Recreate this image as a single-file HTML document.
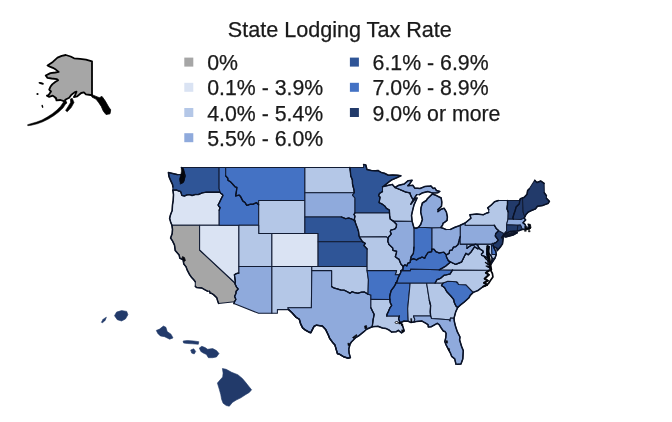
<!DOCTYPE html>
<html><head><meta charset="utf-8"><title>State Lodging Tax Rate</title>
<style>
html,body{margin:0;padding:0;background:#fff;}
body{width:672px;height:422px;overflow:hidden;font-family:"Liberation Sans",Arial,sans-serif;}
svg{display:block;filter:blur(0.35px)}
text{font-family:"Liberation Sans",Arial,sans-serif;font-size:21.3px;fill:#1a1a1a;stroke:#1a1a1a;stroke-width:0.25px}
.st path{stroke:#111b33;stroke-width:1.05;stroke-linejoin:round}
</style></head><body>
<svg width="672" height="422" viewBox="0 0 672 422">
<rect width="672" height="422" fill="#fff"/>
<text x="339.8" y="36.6" text-anchor="middle" style="font-size:21.6px">State Lodging Tax Rate</text>
<g><rect x="184.3" y="57.6" width="9" height="9" fill="#a6a6a6"/><text x="207.2" y="70.2">0%</text><rect x="184.3" y="82.8" width="9" height="9" fill="#dae3f3"/><text x="207.2" y="95.4">0.1% - 3.9%</text><rect x="184.3" y="108" width="9" height="9" fill="#b4c7e7"/><text x="207.2" y="120.6">4.0% - 5.4%</text><rect x="184.3" y="133.2" width="9" height="9" fill="#8faadc"/><text x="207.2" y="145.8">5.5% - 6.0%</text><rect x="349.9" y="57.6" width="9" height="9" fill="#2f5597"/><text x="372.6" y="70.2">6.1% - 6.9%</text><rect x="349.9" y="82.8" width="9" height="9" fill="#4472c4"/><text x="372.6" y="95.4">7.0% - 8.9%</text><rect x="349.9" y="108" width="9" height="9" fill="#223a6a"/><text x="372.6" y="120.6">9.0% or more</text></g>
<g class="st"><path d="M181.4,167.5 183.1,169.6 185.1,175.8 184.2,179.1 183.4,181.8 180.5,183.6 181.8,179.1 181.4,174.6 177.0,174.6 168.4,172.6 169.0,176.6 170.9,181.1 172.5,184.4 172.9,186.9 172.9,190.2 172.9,190.2 176.5,190.1 178.5,191.0 180.5,191.4 181.3,193.5 181.8,195.4 184.4,196.0 187.1,194.9 189.7,194.6 192.0,195.6 195.3,194.5 198.3,194.6 202.2,192.9 206.2,192.2 219.9,192.2 219.9,192.2 219.7,190.6 219.1,188.7 219.1,167.5Z" fill="#2f5597"/>
<path d="M172.9,190.2 173.5,194.7 173.2,200.5 172.5,204.6 172.2,210.4 170.6,214.5 169.6,218.3 170.6,221.9 171.9,225.2 219.2,225.2 219.2,225.2 219.2,210.2 220.1,207.5 219.1,206.7 218.1,205.0 219.4,202.6 220.4,200.5 221.6,198.0 222.9,195.6 222.4,194.3 220.9,193.5 219.9,192.2 219.9,192.2 206.2,192.2 202.2,192.9 198.3,194.6 195.3,194.5 192.0,195.6 189.7,194.6 187.1,194.9 184.4,196.0 181.8,195.4 181.3,193.5 180.5,191.4 178.5,191.0 176.5,190.1 172.9,190.2Z" fill="#dae3f3"/>
<path d="M171.9,225.2 172.5,229.4 172.2,233.5 170.6,238.1 172.5,240.9 174.5,245.1 175.2,250.4 179.1,254.9 179.8,258.2 183.1,259.9 183.8,264.0 186.1,266.9 187.1,269.8 189.7,274.8 191.7,277.6 194.0,280.1 195.3,281.8 195.3,286.3 196.5,287.5 201.6,287.9 204.6,289.6 207.5,291.2 209.5,291.2 210.2,293.3 211.5,293.3 213.5,294.6 216.8,297.8 217.6,300.7 218.6,303.4 234.4,301.8 235.9,299.5 234.6,296.2 235.9,293.7 236.2,291.2 238.2,289.0 236.6,287.1 235.2,284.2 235.0,283.0 199.6,250.0 199.6,225.2Z" fill="#a6a6a6"/>
<path d="M199.6,225.2 199.6,250.0 235.0,283.0 235.4,281.3 234.9,278.1 234.4,274.8 236.6,273.5 238.9,273.1 238.9,266.5 238.9,225.2Z" fill="#dae3f3"/>
<path d="M219.1,167.5 219.1,188.7 219.7,190.6 219.9,192.2 219.9,192.2 220.9,193.5 222.4,194.3 222.9,195.6 221.6,198.0 220.4,200.5 219.4,202.6 218.1,205.0 219.1,206.7 220.1,207.5 219.2,210.2 219.2,225.2 258.7,225.2 258.7,204.8 256.4,202.6 253.1,204.2 250.4,204.2 246.8,205.4 245.1,202.6 242.8,200.9 240.5,196.4 239.2,195.1 235.6,195.9 236.2,193.1 236.9,187.3 235.2,186.9 233.3,184.8 230.6,181.9 228.0,180.3 227.8,178.2 225.7,175.9 225.7,167.5Z" fill="#4472c4"/>
<path d="M225.7,167.5 225.7,175.9 227.8,178.2 228.0,180.3 230.6,181.9 233.3,184.8 235.2,186.9 236.9,187.3 236.2,193.1 235.6,195.9 239.2,195.1 240.5,196.4 242.8,200.9 245.1,202.6 246.8,205.4 250.4,204.2 253.1,204.2 256.4,202.6 258.7,204.8 258.7,200.5 304.9,200.5 304.9,167.5Z" fill="#4472c4"/>
<path d="M258.7,200.5 304.9,200.5 304.9,233.5 258.7,233.5Z" fill="#b4c7e7"/>
<path d="M238.9,225.2 258.7,225.2 258.7,233.5 271.9,233.5 271.9,266.5 238.9,266.5Z" fill="#b4c7e7"/>
<path d="M271.9,233.5 318.1,233.5 318.1,266.5 271.9,266.5Z" fill="#dae3f3"/>
<path d="M234.4,301.8 235.9,299.5 234.6,296.2 235.9,293.7 236.2,291.2 238.2,289.0 236.6,287.1 235.2,284.2 235.0,283.0 235.0,283.0 235.4,281.3 234.9,278.1 234.4,274.8 236.6,273.5 238.9,273.1 238.9,266.5 271.9,266.5 271.9,313.3 258.5,313.3 233.9,303.6Z" fill="#8faadc"/>
<path d="M271.9,266.5 311.8,266.5 311.8,270.6 311.4,307.8 287.9,307.8 288.6,309.6 277.4,309.6 277.4,313.3 271.9,313.3Z" fill="#b4c7e7"/>
<path d="M304.9,167.5 349.9,167.5 350.4,171.6 350.7,175.8 352.4,179.9 352.5,184.0 354.0,189.8 354.3,192.7 304.9,192.7Z" fill="#b4c7e7"/>
<path d="M304.9,192.7 354.3,192.7 352.5,195.1 355.0,198.0 355.0,212.9 355.0,212.9 354.0,214.5 355.0,216.2 354.4,219.1 355.0,221.2 355.0,221.2 353.4,219.9 351.4,218.9 348.8,218.1 345.5,218.7 341.5,217.0 304.9,217.0Z" fill="#8faadc"/>
<path d="M304.9,217.0 341.5,217.0 345.5,218.7 348.8,218.1 351.4,218.9 353.4,219.9 355.0,221.2 355.0,221.2 355.7,223.6 357.3,227.7 358.5,231.4 359.0,235.6 359.5,237.0 359.5,237.0 360.3,238.4 362.6,241.8 318.1,241.8 318.1,233.5 304.9,233.5Z" fill="#2f5597"/>
<path d="M318.1,241.8 362.6,241.8 365.3,243.4 363.9,245.5 367.2,249.0 367.1,266.5 318.1,266.5Z" fill="#2f5597"/>
<path d="M311.8,266.5 367.1,266.5 367.1,270.6 368.4,279.7 368.0,294.2 368.0,294.2 364.6,292.1 361.3,292.2 358.0,293.3 354.0,292.5 352.1,291.7 350.1,293.3 346.8,291.5 344.1,290.2 340.8,290.0 336.9,288.8 334.2,288.1 331.6,286.6 331.6,270.6 311.8,270.6Z" fill="#b4c7e7"/>
<path d="M311.8,270.6 331.6,270.6 331.6,286.6 334.2,288.1 336.9,288.8 340.8,290.0 344.1,290.2 346.8,291.5 350.1,293.3 352.1,291.7 354.0,292.5 358.0,293.3 361.3,292.2 364.6,292.1 368.0,294.2 370.9,295.0 370.9,299.3 370.9,307.8 372.5,311.1 374.2,314.4 373.2,319.3 372.9,321.8 372.2,326.7 366.6,329.2 363.9,331.7 358.7,335.8 355.4,337.9 351.4,342.0 350.1,344.0 348.8,349.0 349.1,353.1 350.4,357.6 348.1,358.2 343.5,356.7 339.5,354.2 337.5,353.7 336.4,350.1 334.9,344.9 332.6,342.4 329.6,338.3 328.3,335.0 325.7,329.6 322.4,326.1 316.4,325.2 314.0,326.4 310.8,332.7 309.8,332.5 305.2,330.0 302.6,327.9 300.6,323.8 299.3,319.3 296.0,317.2 292.0,312.7 288.6,309.6 287.9,307.8 311.4,307.8Z" fill="#8faadc"/>
<path d="M363.6,167.5 363.6,164.4 365.8,165.0 367.0,169.6 371.2,170.4 375.2,170.8 378.1,170.6 381.1,172.4 384.4,173.3 388.4,175.2 392.7,174.9 397.6,175.3 400.9,175.8 397.6,177.4 391.7,179.9 389.0,181.9 383.7,186.1 382.5,186.8 382.5,191.6 379.5,193.5 378.6,195.6 380.1,197.2 379.5,200.5 379.1,202.6 382.4,204.2 385.1,206.3 386.4,208.3 389.4,210.0 389.5,212.9 355.0,212.9 355.0,212.9 355.0,198.0 352.5,195.1 354.3,192.7 354.3,192.7 354.0,189.8 352.5,184.0 352.4,179.9 350.7,175.8 350.4,171.6 349.9,167.5Z" fill="#2f5597"/>
<path d="M355.0,212.9 389.5,212.9 389.5,212.9 389.7,216.2 390.3,219.1 393.3,221.1 393.3,221.1 396.6,224.4 396.3,226.9 395.3,228.7 393.6,229.4 390.7,230.2 390.3,231.8 391.3,233.9 390.3,235.2 388.4,237.2 388.2,238.6 388.2,238.6 386.2,236.7 359.5,237.0 359.5,237.0 359.0,235.6 358.5,231.4 357.3,227.7 355.7,223.6 355.0,221.2 355.0,221.2 354.4,219.1 355.0,216.2 354.0,214.5 355.0,212.9Z" fill="#b4c7e7"/>
<path d="M359.5,237.0 386.2,236.7 386.2,236.7 388.2,238.6 388.2,238.6 387.7,241.8 388.4,242.3 388.7,244.2 392.7,247.9 393.0,250.4 396.6,251.2 396.4,253.1 395.3,256.6 397.9,258.7 398.9,259.1 400.9,264.0 403.2,266.5 403.2,266.5 402.9,269.8 400.9,270.6 400.9,270.6 400.7,272.7 399.6,274.8 395.2,274.8 395.2,274.8 396.6,270.6 367.1,270.6 367.1,266.5 367.2,249.0 363.9,245.5 365.3,243.4 362.6,241.8 362.6,241.8 360.3,238.4 359.5,237.0Z" fill="#b4c7e7"/>
<path d="M367.1,270.6 396.6,270.6 395.2,274.8 399.6,274.8 397.9,278.5 396.9,281.9 395.6,283.0 395.6,283.0 395.6,284.2 393.8,287.1 391.3,290.4 390.3,293.7 389.7,297.0 389.9,299.5 370.9,299.3 370.9,295.0 368.0,294.2 368.4,279.7Z" fill="#4472c4"/>
<path d="M370.9,299.3 389.9,299.5 390.3,302.8 391.7,305.3 390.0,307.8 388.4,311.5 387.0,314.4 386.8,316.0 386.8,316.0 399.4,316.0 398.6,318.9 400.2,322.8 401.6,323.8 402.9,326.7 404.2,330.9 401.6,332.9 398.3,330.4 396.3,331.7 391.7,332.1 389.0,330.0 385.7,328.4 382.4,328.0 377.8,326.3 372.2,326.7 372.9,321.8 373.2,319.3 374.2,314.4 372.5,311.1 370.9,307.8 370.9,299.3Z" fill="#b4c7e7"/>
<path d="M395.6,283.0 395.6,284.2 393.8,287.1 391.3,290.4 390.3,293.7 389.7,297.0 389.9,299.5 389.9,299.5 390.3,302.8 391.7,305.3 390.0,307.8 388.4,311.5 387.0,314.4 386.8,316.0 386.8,316.0 399.4,316.0 398.6,318.9 400.2,322.8 404.2,321.0 408.2,321.2 407.7,308.6 410.1,283.8 409.5,283.0Z" fill="#4472c4"/>
<path d="M409.5,283.0 410.1,283.8 407.7,308.6 408.2,321.2 410.8,322.4 414.0,321.9 414.8,319.3 413.4,316.0 430.6,316.0 430.6,316.0 430.3,311.9 430.6,305.3 429.4,300.6 426.6,283.0Z" fill="#b4c7e7"/>
<path d="M426.6,283.0 443.1,283.0 441.5,285.5 444.5,287.5 446.8,291.7 450.7,295.8 453.7,299.5 454.4,302.8 456.0,306.1 457.7,307.5 455.7,311.9 454.0,318.3 450.4,318.1 450.1,321.2 449.1,319.7 431.5,318.5 430.6,316.0 430.6,316.0 430.3,311.9 430.6,305.3 429.4,300.6Z" fill="#b4c7e7"/>
<path d="M413.4,316.0 430.6,316.0 431.5,318.5 449.1,319.7 450.1,321.2 450.4,318.1 454.0,318.3 454.4,321.8 455.4,325.9 457.3,331.7 460.0,337.0 459.6,339.9 461.6,346.5 463.3,350.6 462.8,358.9 461.0,363.9 457.7,364.3 456.0,364.3 454.7,358.9 451.7,356.4 450.4,353.1 448.4,349.4 446.1,344.9 444.8,341.6 445.8,337.5 446.1,333.3 444.8,331.3 443.5,331.3 441.2,328.0 439.2,324.7 437.2,323.4 434.9,324.7 431.3,326.7 428.3,327.0 428.0,324.7 426.0,323.4 422.0,321.1 416.1,321.5 414.0,321.9 414.8,319.3Z" fill="#8faadc"/>
<path d="M443.1,283.0 447.8,281.3 456.7,281.8 456.7,282.6 457.5,282.2 458.5,284.5 465.8,284.7 473.2,292.4 470.2,295.4 468.9,297.8 466.2,300.3 464.3,302.0 460.6,304.9 457.7,307.5 456.0,306.1 454.4,302.8 453.7,299.5 450.7,295.8 446.8,291.7 444.5,287.5 441.5,285.5 443.1,283.0Z" fill="#4472c4"/>
<path d="M452.5,269.9 450.1,273.9 446.4,274.8 444.1,275.2 440.5,278.3 436.9,279.7 435.1,283.0 443.1,283.0 447.8,281.3 456.7,281.8 456.7,282.6 457.5,282.2 458.5,284.5 465.8,284.7 473.2,292.4 477.8,290.6 483.1,286.6 487.2,284.9 484.0,282.9 487.9,280.7 484.6,278.7 488.9,274.8 485.8,272.8 489.0,270.6 490.9,270.2 452.5,269.9Z" fill="#b4c7e7"/>
<path d="M400.9,270.6 400.7,272.7 399.6,274.8 399.6,274.8 397.9,278.5 396.9,281.9 395.6,283.0 409.5,283.0 426.6,283.0 435.1,283.0 435.1,283.0 436.9,279.7 440.5,278.3 444.1,275.2 446.4,274.8 450.1,273.9 452.5,269.9 452.5,269.9 439.3,269.8 439.3,269.8 410.5,269.1 410.5,270.6 400.9,270.6Z" fill="#4472c4"/>
<path d="M403.2,266.5 404.9,264.8 406.8,265.9 407.8,263.2 410.1,262.4 410.5,259.9 413.4,258.7 416.7,259.9 418.7,258.4 420.7,257.8 422.0,257.0 424.7,258.2 425.7,256.0 428.0,252.5 431.6,251.7 431.8,249.2 433.9,249.2 435.9,251.7 439.2,252.9 443.8,252.2 446.4,254.8 446.4,256.8 448.4,260.7 450.6,262.0 445.8,266.1 443.1,267.7 439.3,269.8 410.5,269.1 410.5,270.6 400.9,270.6 402.9,269.8 403.2,266.5Z" fill="#4472c4"/>
<path d="M439.3,269.8 443.1,267.7 445.8,266.1 450.6,262.0 450.6,262.0 455.5,264.4 461.6,262.0 465.9,253.3 468.2,254.8 471.1,251.9 474.5,246.8 477.9,248.9 478.6,247.4 480.1,249.2 482.6,250.6 483.1,251.2 483.1,252.5 481.4,254.1 481.8,255.4 483.4,255.8 486.0,257.0 488.4,258.9 488.0,262.0 488.0,266.5 490.0,267.3 490.9,270.2 452.5,269.9Z" fill="#b4c7e7"/>
<path d="M490.3,265.3 492.3,258.7 495.0,258.0Z" fill="#b4c7e7"/>
<path d="M446.4,254.8 449.1,253.3 449.7,250.4 452.1,250.0 453.4,247.1 455.7,246.7 458.0,244.6 459.0,240.9 459.6,238.4 460.2,236.5 460.2,244.1 467.0,244.1 467.0,248.3 469.5,246.3 471.9,245.1 474.2,244.9 475.5,244.2 477.8,245.1 478.6,247.4 478.6,247.4 477.9,248.9 474.5,246.8 471.1,251.9 468.2,254.8 465.9,253.3 461.6,262.0 455.5,264.4 450.6,262.0 450.6,262.0 448.4,260.7 446.4,256.8 446.4,254.8Z" fill="#8faadc"/>
<path d="M467.0,244.1 491.4,244.1 492.0,254.5 496.3,254.5 495.0,258.0 492.3,258.7 491.0,255.8 488.0,252.5 489.3,246.7 487.0,248.3 486.7,254.1 487.7,257.4 488.4,258.9 486.0,257.0 483.4,255.8 481.8,255.4 481.4,254.1 483.1,252.5 483.1,251.2 482.6,250.6 480.1,249.2 478.6,247.4 478.6,247.4 477.8,245.1 475.5,244.2 474.2,244.9 471.9,245.1 469.5,246.3 467.0,248.3Z" fill="#b4c7e7"/>
<path d="M491.4,244.1 492.6,243.2 494.0,243.4 493.0,245.1 494.0,247.9 495.9,251.7 496.3,254.5 492.0,254.5Z" fill="#4472c4"/>
<path d="M460.2,236.5 460.2,225.2 465.2,223.0 465.2,225.2 494.3,225.2 496.3,228.6 498.6,230.6 495.7,233.7 495.3,236.0 498.3,240.1 495.9,242.6 494.0,243.4 492.6,243.2 491.4,244.1 460.2,244.1Z" fill="#8faadc"/>
<path d="M498.6,230.6 495.7,233.7 495.3,236.0 498.3,240.1 495.9,242.6 494.0,243.4 493.0,245.1 493.3,246.3 496.9,248.3 497.3,250.6 500.6,246.7 502.5,243.8 503.2,238.0 501.6,237.6 503.0,236.0 503.9,233.5Z" fill="#223a6a"/>
<path d="M465.2,225.2 465.2,223.0 470.9,218.2 469.9,214.8 476.8,213.9 483.4,214.7 487.0,212.9 488.7,212.5 488.7,209.6 487.7,207.9 491.3,205.0 494.6,201.7 498.4,200.5 507.5,200.5 507.5,204.6 507.0,208.8 508.2,212.1 508.0,219.1 506.5,224.8 506.6,231.0 505.0,232.7 505.5,233.5 503.9,234.7 503.0,236.0 503.9,233.5 498.6,230.6 496.3,228.6 494.3,225.2Z" fill="#b4c7e7"/>
<path d="M503.0,236.6 505.2,233.9 514.4,231.7 517.3,232.7 513.1,235.0 505.8,237.0 503.2,237.0Z" fill="#10192f"/>
<path d="M507.5,200.5 507.5,204.6 507.0,208.8 508.2,212.1 508.0,219.1 513.4,219.2 513.4,219.2 512.8,218.2 513.8,214.5 515.1,210.8 516.1,207.1 519.4,203.8 519.7,200.4Z" fill="#223a6a"/>
<path d="M519.7,200.4 519.4,203.8 516.1,207.1 515.1,210.8 513.8,214.5 512.8,218.2 513.4,219.2 521.0,219.5 524.2,218.1 525.0,216.4 524.3,215.3 523.2,212.1 522.8,204.6 522.5,198.0 520.4,198.8Z" fill="#223a6a"/>
<path d="M522.5,198.0 524.3,197.2 527.0,194.3 527.6,190.6 529.3,188.8 534.7,180.2 535.9,181.5 536.9,182.5 540.8,181.0 544.1,183.4 544.3,192.7 546.4,195.6 546.4,198.2 549.4,201.3 548.1,203.4 542.8,205.4 537.5,206.3 535.5,208.9 530.9,210.8 528.3,212.1 526.0,214.5 525.0,216.4 524.3,215.3 523.2,212.1 522.8,204.6Z" fill="#223a6a"/>
<path d="M506.5,224.8 508.0,219.1 513.4,219.2 521.0,219.5 524.2,218.1 525.6,219.9 523.0,222.8 525.0,224.4 526.0,226.9 529.6,226.9 529.6,225.2 528.3,224.7 529.9,227.7 525.6,229.0 522.3,229.4 520.5,225.1 517.7,225.2Z" fill="#8faadc"/>
<path d="M517.7,225.2 520.5,225.1 522.3,229.4 519.7,230.4 517.3,230.9Z" fill="#223a6a"/>
<path d="M506.5,224.8 517.7,225.2 517.3,230.9 510.5,231.4 505.5,233.5 505.0,232.7 506.6,231.0Z" fill="#223a6a"/>
<path d="M431.8,227.7 440.8,227.5 443.8,228.6 445.8,229.4 450.4,229.4 455.0,227.3 460.2,225.4 460.2,236.5 459.6,238.4 459.0,240.9 458.0,244.6 455.7,246.7 453.4,247.1 452.1,250.0 449.7,250.4 449.1,253.3 446.4,254.8 446.4,254.8 443.8,252.2 439.2,252.9 435.9,251.7 433.9,249.2 431.8,249.2Z" fill="#8faadc"/>
<path d="M413.9,227.7 416.1,228.3 418.6,227.2 431.8,227.7 431.8,249.2 431.6,251.7 428.0,252.5 425.7,256.0 424.7,258.2 422.0,257.0 420.7,257.8 418.7,258.4 416.7,259.9 413.4,258.7 410.5,259.9 410.5,259.9 411.1,256.6 413.4,253.3 413.9,247.1 413.9,227.7Z" fill="#4472c4"/>
<path d="M413.9,227.7 412.1,221.2 393.3,221.1 393.3,221.1 396.6,224.4 396.3,226.9 395.3,228.7 393.6,229.4 390.7,230.2 390.3,231.8 391.3,233.9 390.3,235.2 388.4,237.2 388.2,238.6 387.7,241.8 388.4,242.3 388.7,244.2 392.7,247.9 393.0,250.4 396.6,251.2 396.4,253.1 395.3,256.6 397.9,258.7 398.9,259.1 400.9,264.0 403.2,266.5 404.9,264.8 406.8,265.9 407.8,263.2 410.1,262.4 410.5,259.9 411.1,256.6 413.4,253.3 413.9,247.1 413.9,227.7Z" fill="#8faadc"/>
<path d="M382.5,186.8 389.7,185.1 392.3,184.4 395.0,187.5 403.5,191.1 405.5,192.0 410.1,192.9 410.1,193.9 411.8,197.6 413.4,199.7 410.8,204.2 415.4,198.4 417.1,198.0 414.1,204.6 412.8,209.6 411.5,215.3 412.1,221.2 393.3,221.1 390.3,219.1 389.7,216.2 389.5,212.9 389.4,210.0 386.4,208.3 385.1,206.3 382.4,204.2 379.1,202.6 379.5,200.5 380.1,197.2 378.6,195.6 379.5,193.5 382.5,191.6 382.5,186.8Z" fill="#b4c7e7"/>
<path d="M395.0,187.5 403.5,191.1 405.5,192.0 410.1,192.9 410.1,193.9 411.8,197.6 413.4,199.7 416.7,194.7 419.4,194.7 422.0,193.1 428.0,191.6 432.6,193.1 437.9,192.7 439.8,191.4 436.5,190.6 434.9,188.1 433.2,188.4 430.9,185.9 424.7,186.6 420.0,188.5 414.8,188.1 412.8,185.2 407.8,185.7 409.5,184.0 412.1,180.3 408.2,180.7 404.2,184.0 398.9,185.2Z" fill="#8faadc"/>
<path d="M418.6,227.2 420.7,224.4 422.4,219.5 420.7,212.1 421.0,207.9 422.4,203.0 426.3,200.5 427.3,198.8 430.6,195.6 432.2,194.1 435.9,195.3 441.2,198.0 441.8,202.2 441.5,206.3 437.9,209.6 437.9,211.6 441.2,209.2 444.1,208.2 446.4,212.1 447.4,217.0 447.1,220.3 444.5,222.4 443.1,223.2 442.5,225.2 440.8,227.5 431.8,227.7Z" fill="#8faadc"/></g>
<g fill="none" stroke="#0a1226" stroke-width="1.0" stroke-linecap="round" stroke-linejoin="round"><path d="M181.4,167.5 L183.1,169.6 M183.1,169.6 L185.1,175.8 M184.2,179.1 L185.1,175.8 M183.4,181.8 L184.2,179.1 M180.5,183.6 L183.4,181.8 M180.5,183.6 L181.8,179.1 M181.4,174.6 L181.8,179.1 M168.4,172.6 L177.0,174.6 M168.4,172.6 L169.0,176.6 M169.0,176.6 L170.9,181.1 M170.9,181.1 L172.5,184.4 M172.5,184.4 L172.9,186.9 M172.9,190.2 L173.5,194.7 M173.2,200.5 L173.5,194.7 M172.5,204.6 L173.2,200.5 M172.2,210.4 L172.5,204.6 M170.6,214.5 L172.2,210.4 M169.6,218.3 L170.6,214.5 M169.6,218.3 L170.6,221.9 M170.6,221.9 L171.9,225.2 M171.9,225.2 L172.5,229.4 M172.2,233.5 L172.5,229.4 M170.6,238.1 L172.2,233.5 M170.6,238.1 L172.5,240.9 M172.5,240.9 L174.5,245.1 M174.5,245.1 L175.2,250.4 M175.2,250.4 L179.1,254.9 M179.1,254.9 L179.8,258.2 M179.8,258.2 L183.1,259.9 M183.1,259.9 L183.8,264.0 M183.8,264.0 L186.1,266.9 M186.1,266.9 L187.1,269.8 M187.1,269.8 L189.7,274.8 M189.7,274.8 L191.7,277.6 M191.7,277.6 L194.0,280.1 M194.0,280.1 L195.3,281.8 M195.3,286.3 L196.5,287.5 M196.5,287.5 L201.6,287.9 M201.6,287.9 L204.6,289.6 M204.6,289.6 L207.5,291.2 M209.5,291.2 L210.2,293.3 M211.5,293.3 L213.5,294.6 M213.5,294.6 L216.8,297.8 M216.8,297.8 L217.6,300.7 M217.6,300.7 L218.6,303.4 M233.9,303.6 L234.4,301.8 M366.6,329.2 L372.2,326.7 M363.9,331.7 L366.6,329.2 M358.7,335.8 L363.9,331.7 M355.4,337.9 L358.7,335.8 M351.4,342.0 L355.4,337.9 M350.1,344.0 L351.4,342.0 M348.8,349.0 L350.1,344.0 M348.8,349.0 L349.1,353.1 M349.1,353.1 L350.4,357.6 M348.1,358.2 L350.4,357.6 M343.5,356.7 L348.1,358.2 M339.5,354.2 L343.5,356.7 M337.5,353.7 L339.5,354.2 M336.4,350.1 L337.5,353.7 M334.9,344.9 L336.4,350.1 M332.6,342.4 L334.9,344.9 M329.6,338.3 L332.6,342.4 M328.3,335.0 L329.6,338.3 M325.7,329.6 L328.3,335.0 M322.4,326.1 L325.7,329.6 M316.4,325.2 L322.4,326.1 M314.0,326.4 L316.4,325.2 M310.8,332.7 L314.0,326.4 M309.8,332.5 L310.8,332.7 M305.2,330.0 L309.8,332.5 M302.6,327.9 L305.2,330.0 M300.6,323.8 L302.6,327.9 M299.3,319.3 L300.6,323.8 M296.0,317.2 L299.3,319.3 M292.0,312.7 L296.0,317.2 M288.6,309.6 L292.0,312.7 M363.6,164.4 L365.8,165.0 M365.8,165.0 L367.0,169.6 M367.0,169.6 L371.2,170.4 M371.2,170.4 L375.2,170.8 M375.2,170.8 L378.1,170.6 M378.1,170.6 L381.1,172.4 M381.1,172.4 L384.4,173.3 M384.4,173.3 L388.4,175.2 M388.4,175.2 L392.7,174.9 M392.7,174.9 L397.6,175.3 M397.6,175.3 L400.9,175.8 M397.6,177.4 L400.9,175.8 M391.7,179.9 L397.6,177.4 M389.0,181.9 L391.7,179.9 M383.7,186.1 L389.0,181.9 M382.5,186.8 L383.7,186.1 M400.2,322.8 L401.6,323.8 M401.6,323.8 L402.9,326.7 M402.9,326.7 L404.2,330.9 M401.6,332.9 L404.2,330.9 M398.3,330.4 L401.6,332.9 M396.3,331.7 L398.3,330.4 M391.7,332.1 L396.3,331.7 M389.0,330.0 L391.7,332.1 M385.7,328.4 L389.0,330.0 M382.4,328.0 L385.7,328.4 M377.8,326.3 L382.4,328.0 M372.2,326.7 L377.8,326.3 M400.2,322.8 L404.2,321.0 M404.2,321.0 L408.2,321.2 M408.2,321.2 L410.8,322.4 M410.8,322.4 L414.0,321.9 M455.7,311.9 L457.7,307.5 M454.0,318.3 L455.7,311.9 M454.0,318.3 L454.4,321.8 M454.4,321.8 L455.4,325.9 M455.4,325.9 L457.3,331.7 M457.3,331.7 L460.0,337.0 M459.6,339.9 L460.0,337.0 M459.6,339.9 L461.6,346.5 M461.6,346.5 L463.3,350.6 M462.8,358.9 L463.3,350.6 M461.0,363.9 L462.8,358.9 M457.7,364.3 L461.0,363.9 M454.7,358.9 L456.0,364.3 M451.7,356.4 L454.7,358.9 M450.4,353.1 L451.7,356.4 M448.4,349.4 L450.4,353.1 M446.1,344.9 L448.4,349.4 M444.8,341.6 L446.1,344.9 M444.8,341.6 L445.8,337.5 M445.8,337.5 L446.1,333.3 M444.8,331.3 L446.1,333.3 M441.2,328.0 L443.5,331.3 M439.2,324.7 L441.2,328.0 M437.2,323.4 L439.2,324.7 M434.9,324.7 L437.2,323.4 M431.3,326.7 L434.9,324.7 M428.3,327.0 L431.3,326.7 M428.0,324.7 L428.3,327.0 M426.0,323.4 L428.0,324.7 M422.0,321.1 L426.0,323.4 M416.1,321.5 L422.0,321.1 M414.0,321.9 L416.1,321.5 M470.2,295.4 L473.2,292.4 M468.9,297.8 L470.2,295.4 M466.2,300.3 L468.9,297.8 M464.3,302.0 L466.2,300.3 M460.6,304.9 L464.3,302.0 M457.7,307.5 L460.6,304.9 M473.2,292.4 L477.8,290.6 M477.8,290.6 L483.1,286.6 M483.1,286.6 L487.2,284.9 M484.0,282.9 L487.2,284.9 M484.0,282.9 L487.9,280.7 M484.6,278.7 L487.9,280.7 M484.6,278.7 L488.9,274.8 M485.8,272.8 L488.9,274.8 M485.8,272.8 L489.0,270.6 M489.0,270.6 L490.9,270.2 M488.0,262.0 L488.4,258.9 M488.0,266.5 L490.0,267.3 M490.0,267.3 L490.9,270.2 M490.3,265.3 L492.3,258.7 M490.3,265.3 L495.0,258.0 M495.0,258.0 L496.3,254.5 M491.0,255.8 L492.3,258.7 M488.0,252.5 L491.0,255.8 M488.0,252.5 L489.3,246.7 M487.0,248.3 L489.3,246.7 M486.7,254.1 L487.0,248.3 M486.7,254.1 L487.7,257.4 M487.7,257.4 L488.4,258.9 M493.0,245.1 L494.0,247.9 M494.0,247.9 L495.9,251.7 M495.9,251.7 L496.3,254.5 M460.2,225.2 L465.2,223.0 M493.0,245.1 L493.3,246.3 M493.3,246.3 L496.9,248.3 M496.9,248.3 L497.3,250.6 M497.3,250.6 L500.6,246.7 M500.6,246.7 L502.5,243.8 M502.5,243.8 L503.2,238.0 M501.6,237.6 L503.2,238.0 M501.6,237.6 L503.0,236.0 M465.2,223.0 L470.9,218.2 M469.9,214.8 L470.9,218.2 M469.9,214.8 L476.8,213.9 M476.8,213.9 L483.4,214.7 M483.4,214.7 L487.0,212.9 M487.0,212.9 L488.7,212.5 M487.7,207.9 L488.7,209.6 M487.7,207.9 L491.3,205.0 M491.3,205.0 L494.6,201.7 M494.6,201.7 L498.4,200.5 M503.9,234.7 L505.5,233.5 M503.0,236.0 L503.9,234.7 M503.0,236.6 L505.2,233.9 M514.4,231.7 L517.3,232.7 M513.1,235.0 L517.3,232.7 M505.8,237.0 L513.1,235.0 M503.0,236.6 L503.2,237.0 M524.2,218.1 L525.0,216.4 M520.4,198.8 L522.5,198.0 M519.7,200.4 L520.4,198.8 M522.5,198.0 L524.3,197.2 M524.3,197.2 L527.0,194.3 M527.0,194.3 L527.6,190.6 M527.6,190.6 L529.3,188.8 M534.7,180.2 L535.9,181.5 M535.9,181.5 L536.9,182.5 M536.9,182.5 L540.8,181.0 M540.8,181.0 L544.1,183.4 M544.3,192.7 L546.4,195.6 M546.4,198.2 L549.4,201.3 M548.1,203.4 L549.4,201.3 M542.8,205.4 L548.1,203.4 M537.5,206.3 L542.8,205.4 M535.5,208.9 L537.5,206.3 M530.9,210.8 L535.5,208.9 M528.3,212.1 L530.9,210.8 M526.0,214.5 L528.3,212.1 M525.0,216.4 L526.0,214.5 M524.2,218.1 L525.6,219.9 M523.0,222.8 L525.6,219.9 M523.0,222.8 L525.0,224.4 M525.0,224.4 L526.0,226.9 M528.3,224.7 L529.6,225.2 M528.3,224.7 L529.9,227.7 M525.6,229.0 L529.9,227.7 M522.3,229.4 L525.6,229.0 M519.7,230.4 L522.3,229.4 M517.3,230.9 L519.7,230.4 M510.5,231.4 L517.3,230.9 M505.5,233.5 L510.5,231.4 M440.8,227.5 L443.8,228.6 M443.8,228.6 L445.8,229.4 M450.4,229.4 L455.0,227.3 M455.0,227.3 L460.2,225.4 M413.9,227.7 L416.1,228.3 M416.1,228.3 L418.6,227.2 M412.1,221.2 L413.9,227.7 M382.5,186.8 L389.7,185.1 M389.7,185.1 L392.3,184.4 M392.3,184.4 L395.0,187.5 M410.8,204.2 L413.4,199.7 M410.8,204.2 L415.4,198.4 M415.4,198.4 L417.1,198.0 M414.1,204.6 L417.1,198.0 M412.8,209.6 L414.1,204.6 M411.5,215.3 L412.8,209.6 M411.5,215.3 L412.1,221.2 M413.4,199.7 L416.7,194.7 M419.4,194.7 L422.0,193.1 M422.0,193.1 L428.0,191.6 M428.0,191.6 L432.6,193.1 M432.6,193.1 L437.9,192.7 M437.9,192.7 L439.8,191.4 M436.5,190.6 L439.8,191.4 M434.9,188.1 L436.5,190.6 M433.2,188.4 L434.9,188.1 M430.9,185.9 L433.2,188.4 M424.7,186.6 L430.9,185.9 M420.0,188.5 L424.7,186.6 M414.8,188.1 L420.0,188.5 M412.8,185.2 L414.8,188.1 M407.8,185.7 L412.8,185.2 M407.8,185.7 L409.5,184.0 M409.5,184.0 L412.1,180.3 M408.2,180.7 L412.1,180.3 M404.2,184.0 L408.2,180.7 M398.9,185.2 L404.2,184.0 M395.0,187.5 L398.9,185.2 M418.6,227.2 L420.7,224.4 M420.7,224.4 L422.4,219.5 M420.7,212.1 L422.4,219.5 M420.7,212.1 L421.0,207.9 M421.0,207.9 L422.4,203.0 M422.4,203.0 L426.3,200.5 M426.3,200.5 L427.3,198.8 M427.3,198.8 L430.6,195.6 M430.6,195.6 L432.2,194.1 M432.2,194.1 L435.9,195.3 M435.9,195.3 L441.2,198.0 M441.2,198.0 L441.8,202.2 M441.5,206.3 L441.8,202.2 M437.9,209.6 L441.5,206.3 M437.9,211.6 L441.2,209.2 M441.2,209.2 L444.1,208.2 M444.1,208.2 L446.4,212.1 M446.4,212.1 L447.4,217.0 M447.1,220.3 L447.4,217.0 M444.5,222.4 L447.1,220.3 M443.1,223.2 L444.5,222.4 M442.5,225.2 L443.1,223.2 M440.8,227.5 L442.5,225.2" stroke-width="1.5"/><path d="M172.9,190.2 176.5,190.1 178.5,191.0 180.5,191.4 181.3,193.5 181.8,195.4 184.4,196.0 187.1,194.9 189.7,194.6 192.0,195.6 195.3,194.5 198.3,194.6 202.2,192.9 206.2,192.2 219.9,192.2" stroke-width="1.35"/><path d="M219.9,192.2 220.9,193.5 222.4,194.3 222.9,195.6 221.6,198.0 220.4,200.5 219.4,202.6 218.1,205.0 219.1,206.7 220.1,207.5 219.2,210.2" stroke-width="1.35"/><path d="M331.6,286.6 334.2,288.1 336.9,288.8 340.8,290.0 344.1,290.2 346.8,291.5 350.1,293.3 352.1,291.7 354.0,292.5 358.0,293.3 361.3,292.2 364.6,292.1 368.0,294.2" stroke-width="1.35"/><path d="M350.4,357.6 348.1,358.2 343.5,356.7 339.5,354.2 337.5,353.7 336.4,350.1 334.9,344.9 332.6,342.4 329.6,338.3 328.3,335.0 325.7,329.6 322.4,326.1 316.4,325.2 314.0,326.4 310.8,332.7 309.8,332.5 305.2,330.0 302.6,327.9 300.6,323.8 299.3,319.3 296.0,317.2 292.0,312.7 288.6,309.6" stroke-width="1.35"/><path d="M370.9,307.8 372.5,311.1 374.2,314.4 373.2,319.3 372.9,321.8 372.2,326.7" stroke-width="1.35"/><path d="M382.5,191.6 379.5,193.5 378.6,195.6 380.1,197.2 379.5,200.5 379.1,202.6 382.4,204.2 385.1,206.3 386.4,208.3 389.4,210.0 389.5,212.9" stroke-width="1.35"/><path d="M389.5,212.9 389.7,216.2 390.3,219.1 393.3,221.1" stroke-width="1.35"/><path d="M393.3,221.1 396.6,224.4 396.3,226.9 395.3,228.7 393.6,229.4 390.7,230.2 390.3,231.8 391.3,233.9 390.3,235.2 388.4,237.2 388.2,238.6" stroke-width="1.35"/><path d="M388.2,238.6 387.7,241.8 388.4,242.3 388.7,244.2 392.7,247.9 393.0,250.4 396.6,251.2 396.4,253.1 395.3,256.6 397.9,258.7 398.9,259.1 400.9,264.0 403.2,266.5" stroke-width="1.35"/><path d="M403.2,266.5 402.9,269.8 400.9,270.6" stroke-width="1.35"/><path d="M400.9,270.6 400.7,272.7 399.6,274.8" stroke-width="1.35"/><path d="M399.6,274.8 397.9,278.5 396.9,281.9 395.6,283.0" stroke-width="1.35"/><path d="M395.6,283.0 395.6,284.2 393.8,287.1 391.3,290.4 390.3,293.7 389.7,297.0 389.9,299.5" stroke-width="1.35"/><path d="M389.9,299.5 390.3,302.8 391.7,305.3 390.0,307.8 388.4,311.5 387.0,314.4 386.8,316.0" stroke-width="1.35"/><path d="M399.4,316.0 398.6,318.9 400.2,322.8" stroke-width="1.35"/><path d="M403.2,266.5 404.9,264.8 406.8,265.9 407.8,263.2 410.1,262.4 410.5,259.9" stroke-width="1.35"/><path d="M410.5,259.9 413.4,258.7 416.7,259.9 418.7,258.4 420.7,257.8 422.0,257.0 424.7,258.2 425.7,256.0 428.0,252.5 431.6,251.7 431.8,249.2" stroke-width="1.35"/><path d="M431.8,249.2 433.9,249.2 435.9,251.7 439.2,252.9 443.8,252.2 446.4,254.8" stroke-width="1.35"/><path d="M446.4,254.8 449.1,253.3 449.7,250.4 452.1,250.0 453.4,247.1 455.7,246.7 458.0,244.6 459.0,240.9 459.6,238.4 460.2,236.5" stroke-width="1.35"/><path d="M410.5,259.9 411.1,256.6 413.4,253.3 413.9,247.1" stroke-width="1.35"/><path d="M446.4,254.8 446.4,256.8 448.4,260.7 450.6,262.0" stroke-width="1.35"/><path d="M467.0,248.3 469.5,246.3 471.9,245.1 474.2,244.9 475.5,244.2 477.8,245.1 478.6,247.4" stroke-width="1.35"/><path d="M478.6,247.4 480.1,249.2 482.6,250.6 483.1,251.2 483.1,252.5 481.4,254.1 481.8,255.4 483.4,255.8 486.0,257.0 488.4,258.9" stroke-width="1.35"/><path d="M443.1,283.0 441.5,285.5 444.5,287.5 446.8,291.7 450.7,295.8 453.7,299.5 454.4,302.8 456.0,306.1 457.7,307.5" stroke-width="1.35"/><path d="M429.4,300.6 430.6,305.3 430.3,311.9 430.6,316.0" stroke-width="1.35"/><path d="M341.5,217.0 345.5,218.7 348.8,218.1 351.4,218.9 353.4,219.9 355.0,221.2" stroke-width="1.35"/><path d="M355.0,221.2 355.7,223.6 357.3,227.7 358.5,231.4 359.0,235.6 359.5,237.0" stroke-width="1.35"/><path d="M359.5,237.0 360.3,238.4 362.6,241.8" stroke-width="1.35"/><path d="M362.6,241.8 365.3,243.4 363.9,245.5 367.2,249.0" stroke-width="1.35"/><path d="M234.4,301.8 235.9,299.5 234.6,296.2 235.9,293.7 236.2,291.2 238.2,289.0 236.6,287.1 235.2,284.2 235.0,283.0" stroke-width="1.35"/><path d="M235.0,283.0 235.4,281.3 234.9,278.1 234.4,274.8 236.6,273.5 238.9,273.1" stroke-width="1.35"/><path d="M494.3,225.2 496.3,228.6 498.6,230.6 495.7,233.7 495.3,236.0 498.3,240.1 495.9,242.6 494.0,243.4" stroke-width="1.35"/><path d="M225.7,175.9 227.8,178.2 228.0,180.3 230.6,181.9 233.3,184.8 235.2,186.9 236.9,187.3 236.2,193.1 235.6,195.9 239.2,195.1 240.5,196.4 242.8,200.9 245.1,202.6 246.8,205.4 250.4,204.2 253.1,204.2 256.4,202.6 258.7,204.8" stroke-width="1.35"/><path d="M450.6,262.0 455.5,264.4 461.6,262.0 465.9,253.3 468.2,254.8 471.1,251.9 474.5,246.8 477.9,248.9 478.6,247.4" stroke-width="1.35"/><path d="M450.6,262.0 445.8,266.1 443.1,267.7 439.3,269.8" stroke-width="1.35"/><path d="M452.5,269.9 450.1,273.9 446.4,274.8 444.1,275.2 440.5,278.3 436.9,279.7 435.1,283.0" stroke-width="1.35"/><path d="M395.0,187.5 403.5,191.1 405.5,192.0 410.1,192.9 410.1,193.9 411.8,197.6 413.4,199.7" stroke-width="1.35"/><path d="M349.9,167.5 350.4,171.6 350.7,175.8 352.4,179.9 352.5,184.0 354.0,189.8 354.3,192.7" stroke-width="1.35"/><path d="M355.0,212.9 354.0,214.5 355.0,216.2 354.4,219.1 355.0,221.2" stroke-width="1.35"/><path d="M519.7,200.4 519.4,203.8 516.1,207.1 515.1,210.8 513.8,214.5 512.8,218.2 513.4,219.2" stroke-width="1.35"/><path d="M507.5,200.5 507.5,204.6 507.0,208.8 508.2,212.1" stroke-width="1.35"/></g>
<path d="M47.5,65.4 52.8,61.9 57.5,57.7 61.7,55.9 65.8,55.0 70.6,56.5 74.1,58.3 80.1,58.9 86.0,59.7 92.0,61.3 92.0,95.0 90.6,95.0 85.9,94.4 83.9,92.4 81.2,93.0 77.2,96.4 73.9,97.0 75.2,95.0 76.5,91.7 74.5,92.4 71.2,95.0 69.2,97.7 65.2,99.7 65.8,103.1 63.8,101.1 60.5,100.0 56.5,100.4 55.8,97.7 56.4,99.2 54.6,96.9 52.8,95.7 49.2,96.9 46.9,95.7 48.6,95.1 51.0,91.5 49.2,89.7 50.4,86.8 52.2,84.4 55.2,82.0 58.1,80.2 56.9,79.1 51.6,78.5 47.5,77.9 45.7,75.5 50.4,73.1 55.2,72.5 58.7,71.9 55.8,69.6 52.8,67.8 49.8,66.6Z" fill="#a6a6a6" stroke="#000" stroke-width="1.8" stroke-linejoin="round"/>
<path d="M91.3,94.4 96.0,96.4 99.3,97.7 102.0,96.4 105.3,101.1 108.7,107.1 110.7,109.8 110.0,113.8 106.0,114.5 103.3,111.1 101.3,106.4 98.6,102.4 96.0,99.1 91.9,97.0Z" fill="#000" stroke="#000" stroke-width="0.8" stroke-linejoin="round"/>
<path d="M64.4,100.7 60.6,106.2 56.9,110.1 52.4,113.7 47.2,117.1 42.0,120.0 36.7,122.0 30.8,123.7 27.6,124.7 27.8,125.7 31.2,125.3 37.3,123.8 42.8,121.8 48.4,119.1 53.8,115.7 58.7,112.1 63.0,108.0 66.8,102.3Z" fill="#000" stroke="#000" stroke-width="0.5" stroke-linejoin="round"/>
<path d="M72.2,98.2 74.0,102.4 71.2,107.6 67.2,111.8 65.6,110.4 68.2,106.4 70.6,102.4 70.4,99.0Z" fill="#000" stroke="#000" stroke-width="0.6" stroke-linejoin="round"/>
<ellipse cx="41.2" cy="83.3" rx="2.8" ry="1.1" fill="#000" transform="rotate(15 41.2 83.3)"/>
<ellipse cx="37.5" cy="93.9" rx="1.1" ry="1.0" fill="#000"/>
<ellipse cx="42.4" cy="106.4" rx="0.8" ry="1.7" fill="#000" transform="rotate(-15 42.4 106.4)"/>
<path d="M101.4,322.3 103.2,319.2 106.4,317.2 105.2,320.2 102.6,322.8Z" fill="#223a6a" stroke="#223a6a" stroke-width="0.6" stroke-linejoin="round"/>
<path d="M114.5,315.7 116.6,312.1 121.6,310.6 126.7,311.4 127.9,314.7 125.4,319.0 121.6,321.0 117.3,319.7Z" fill="#223a6a" stroke="#223a6a" stroke-width="0.6" stroke-linejoin="round"/>
<path d="M156.3,330.4 159.6,329.1 163.4,326.1 165.9,327.3 167.2,331.6 171.0,334.2 173.0,337.9 169.7,339.2 164.6,336.7 160.3,335.9 157.8,333.4Z" fill="#223a6a" stroke="#223a6a" stroke-width="0.6" stroke-linejoin="round"/>
<path d="M183.1,341.0 187.4,340.5 193.7,341.0 198.8,341.7 198.3,344.3 192.5,343.8 187.4,343.5 183.6,343.0Z" fill="#223a6a" stroke="#223a6a" stroke-width="0.6" stroke-linejoin="round"/>
<path d="M190.7,350.1 193.7,348.8 195.7,351.4 194.2,353.9 191.7,353.1Z" fill="#223a6a" stroke="#223a6a" stroke-width="0.6" stroke-linejoin="round"/>
<path d="M199.3,348.1 201.8,346.3 205.1,347.6 207.6,349.3 212.7,348.6 216.5,350.6 219.0,353.6 216.5,356.9 212.7,357.7 208.4,357.7 206.4,354.4 203.3,353.1 200.8,351.4Z" fill="#223a6a" stroke="#223a6a" stroke-width="0.6" stroke-linejoin="round"/>
<path d="M222.4,368.5 226.2,369.3 231.6,372.3 237.8,374.7 242.4,378.5 246.2,383.1 249.3,387.0 251.6,389.8 249.3,392.4 245.5,394.7 240.8,397.8 236.2,400.1 232.4,402.4 229.3,406.2 226.2,405.5 223.1,403.2 221.6,399.3 220.8,394.7 219.3,389.3 217.4,383.1 220.0,380.0 222.7,377.0 223.1,373.1Z" fill="#223a6a" stroke="#223a6a" stroke-width="0.6" stroke-linejoin="round"/>
<path d="M181.2,168.5 183.5,168.5 184.2,172.0 184.6,177.0 184.0,181.0 182.0,183.5 180.0,182.5 179.5,179.0 180.8,175.0 181.5,171.0Z" fill="#05070d" stroke="#05070d" stroke-width="0.6" stroke-linejoin="round"/>
<path d="M182.5,256.5 184.5,257.5 185.5,260.5 184.5,261.5 183.0,260.0 182.0,258.0Z" fill="#05070d" stroke="#05070d" stroke-width="0.6" stroke-linejoin="round"/>
<path d="M364.5,326.0 366.5,325.5 367.0,328.0 365.0,329.0Z" fill="#05070d" stroke="#05070d" stroke-width="0.6" stroke-linejoin="round"/>
<path d="M352.5,337.5 356.5,334.5 357.0,335.5 353.5,338.5Z" fill="#05070d" stroke="#05070d" stroke-width="0.6" stroke-linejoin="round"/>
<path d="M347.8,343.0 349.6,343.4 349.4,346.0 348.0,345.6Z" fill="#05070d" stroke="#05070d" stroke-width="0.4" stroke-linejoin="round"/>
<ellipse cx="396.6" cy="322.5" rx="1.5" ry="1.0" fill="#fff" stroke="#05070d" stroke-width="0.9"/>
<path d="M398.6,322.0 400.4,322.0 400.4,324.0 398.8,324.0Z" fill="#05070d" stroke="#05070d" stroke-width="0.5" stroke-linejoin="round"/>
<path d="M401.5,323.8 403.0,324.2 402.8,326.0 401.4,325.6Z" fill="#05070d" stroke="#05070d" stroke-width="0.5" stroke-linejoin="round"/>
<path d="M401.6,329.8 403.6,330.0 403.6,332.0 401.8,332.0Z" fill="#05070d" stroke="#05070d" stroke-width="0.5" stroke-linejoin="round"/>
<path d="M410.6,318.6 411.8,318.6 412.0,322.4 410.9,322.4Z" fill="#05070d" stroke="#05070d" stroke-width="0.4" stroke-linejoin="round"/>
<path d="M445.8,340.6 447.6,340.8 447.6,343.2 446.0,343.0Z" fill="#05070d" stroke="#05070d" stroke-width="0.4" stroke-linejoin="round"/>
<path d="M448.2,348.4 449.6,348.6 449.6,350.6 448.4,350.4Z" fill="#05070d" stroke="#05070d" stroke-width="0.4" stroke-linejoin="round"/>
<path d="M487.6,246.5 487.9,250.0 488.3,253.0 488.4,256.0 489.2,259.0 489.6,262.0 490.2,266.0 490.8,269.5" fill="none" stroke="#05070d" stroke-width="2.8" stroke-linejoin="round" stroke-linecap="round"/>
<path d="M484.5,257.0 486.5,259.5 488.6,261.0" fill="none" stroke="#05070d" stroke-width="1.4" stroke-linejoin="round" stroke-linecap="round"/>
<path d="M485.5,262.5 487.5,264.0 489.4,264.5" fill="none" stroke="#05070d" stroke-width="1.4" stroke-linejoin="round" stroke-linecap="round"/>
<path d="M486.2,266.0 488.0,267.0 490.0,267.4" fill="none" stroke="#05070d" stroke-width="1.3" stroke-linejoin="round" stroke-linecap="round"/>
<path d="M490.7,270.3 492.4,273.5 492.9,276.9 490.4,280.5 488.5,283.5 485.5,285.6" fill="none" stroke="#05070d" stroke-width="1.7" stroke-linejoin="round" stroke-linecap="round"/>
<path d="M489.0,270.6 485.8,272.8 488.9,274.8 484.6,278.7 487.9,280.7 484.0,282.9 487.2,284.9 483.1,286.6" fill="none" stroke="#05070d" stroke-width="1.9" stroke-linejoin="round" stroke-linecap="round"/>
<path d="M524.6,226.6 527.2,228.2 529.6,227.6 529.2,224.6 527.8,224.0 530.4,224.4 531.0,228.0 529.4,229.6 525.4,229.4Z" fill="#05070d" stroke="#05070d" stroke-width="0.8" stroke-linejoin="round"/>
<path d="M524.2,230.2 526.2,229.9 526.4,231.2 524.6,231.4Z" fill="#05070d" stroke="#05070d" stroke-width="0.4" stroke-linejoin="round"/>
<path d="M528.2,230.6 530.0,230.4 530.2,231.8 528.6,232.0Z" fill="#05070d" stroke="#05070d" stroke-width="0.4" stroke-linejoin="round"/>
</svg>
</body></html>
